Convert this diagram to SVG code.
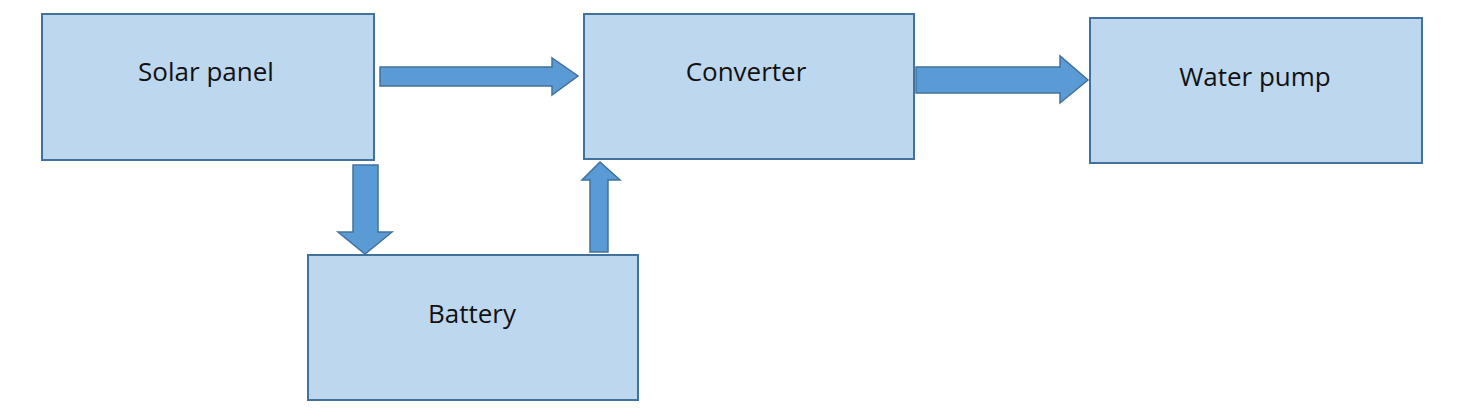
<svg xmlns="http://www.w3.org/2000/svg" width="1464" height="417" viewBox="0 0 1464 417">
<style>
.box{fill:#BDD7EE;stroke:#41719C;stroke-width:2}
.lbl{font-family:"Open Sans","Liberation Sans",sans-serif;font-size:26px;fill:#111;text-anchor:middle;dominant-baseline:middle}
.arr{fill:#5B9BD5;stroke:#41719C;stroke-width:1.5}
</style>
<rect width="1464" height="417" fill="#fff"/>
<g id="solar"><rect class="box" x="42" y="14" width="332" height="146"/><text class="lbl" x="206" y="74">Solar panel</text></g>
<g id="converter"><rect class="box" x="584" y="14" width="330" height="145"/><text class="lbl" x="746" y="74">Converter</text></g>
<g id="pump"><rect class="box" x="1090" y="18" width="332" height="145"/><text class="lbl" x="1255" y="79">Water pump</text></g>
<g id="battery"><rect class="box" x="308" y="255" width="330" height="145"/><text class="lbl" x="472" y="316">Battery</text></g>
<g id="connectors">
<polygon class="arr" points="380,67 552,67 552,58 578,76 552,95 552,86 380,86"/>
<polygon class="arr" points="916,67 1060,67 1060,56 1088,80 1060,103 1060,93 916,93"/>
<polygon class="arr" points="353,165 378,165 378,232 392,232 365,254 338,232 353,232"/>
<polygon class="arr" points="590,252 608,252 608,180 620,180 600,162 582,180 590,180"/>
</g>
</svg>
